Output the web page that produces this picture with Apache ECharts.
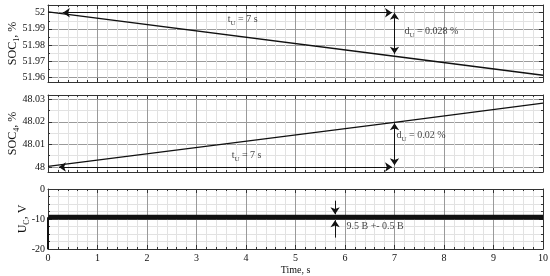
<!DOCTYPE html>
<html><head><meta charset="utf-8">
<script src="https://cdn.jsdelivr.net/npm/echarts@6/dist/echarts.min.js"></script>
<style>html,body{margin:0;padding:0;background:#fff}#c{width:550px;height:276px}</style>
</head><body><div id="c"></div><script>
// ---- data ----
const soc1Time = [0, 7, 10];
const soc1Values = [52.0005, 51.973, 51.9612];
const soc4Time = [0, 7, 10];
const soc4Values = [48.0003, 48.0198, 48.0283];
const ucStepTime = [0, 0];
const ucStepValues = [-20, -9.4];
const ucTime = [0.01, 10];
const ucValues = [-9.4, -9.4];
// annotation geometry (data coordinates)
const soc1TimeArrow = [[0.3, 52.0], [6.95, 52.0]];
const soc1DeltaArrow = [[7, 52.0], [7, 51.9745]];
const soc4TimeArrow = [[0.22, 48.0], [6.95, 48.0]];
const soc4DeltaArrow = [[7, 48.0008], [7, 48.0194]];
const ucArrowDown = [[5.8, -3.9], [5.8, -8.4]];
const ucArrowUp = [[5.8, -16.2], [5.8, -10.4]];
const soc1Texts = [[3.64, 51.9947, 't', 'U', ' = 7 s'], [7.21, 51.9872, 'd', 'U', ' = 0.028 %']];
const soc4Texts = [[3.72, 48.0044, 't', 'U', ' = 7 s'], [7.05, 48.0133, 'd', 'U', ' = 0.02 %']];
const ucTexts = [[6.04, -12.9, '', '', '9.5 B +- 0.5 B']];
// axis ranges / ticks
const timeRange = [0, 10, 1];
const soc1Range = [51.957, 52.0048];
const soc4Range = [47.9978, 48.0319];
const ucRange = [-20, 0, 10];

const FONT = "'Liberation Serif','DejaVu Serif',serif";
const INK = '#111';
const FRAME = '#333';
const MAJOR = '#9a9a9a';
const MINOR = '#e2e2e2';

const richSmall = {
  n: {fontSize: 10, fontFamily: FONT, color: INK, lineHeight: 12, verticalAlign: 'top'},
  s: {fontSize: 7, fontFamily: FONT, color: INK, lineHeight: 8, verticalAlign: 'bottom', padding: [6, 0, 0, 0]}
};
const richName = {
  n: {fontSize: 12, fontFamily: FONT, color: INK, lineHeight: 14, verticalAlign: 'top'},
  s: {fontSize: 8, fontFamily: FONT, color: INK, lineHeight: 9, verticalAlign: 'bottom', padding: [7, 0, 0, 0]}
};

function zip(a, b) { return a.map((v, i) => [v, b[i]]); }

const grids = [
  {left: 48, right: 7, top: 5, height: 77, containLabel: false, outerBoundsMode: 'none'},
  {left: 48, right: 7, top: 95, height: 77, containLabel: false, outerBoundsMode: 'none'},
  {left: 48, right: 7, top: 189, height: 60, containLabel: false, outerBoundsMode: 'none'}
];

const tickCommon = {
  axisLine: {show: true, onZero: false, lineStyle: {color: FRAME, width: 1}},
  axisTick: {show: true, inside: true, length: 4, lineStyle: {color: FRAME, width: 1}},
};

const xAxis = [];
const yAxis = [];
for (let g = 0; g < 3; g++) {
  xAxis.push(Object.assign({
    type: 'value', gridIndex: g, position: 'bottom',
    min: timeRange[0], max: timeRange[1], interval: timeRange[2],
    minorTick: {show: true, splitNumber: 5, length: 2, lineStyle: {color: FRAME}},
    splitLine: {show: true, lineStyle: {color: MAJOR, width: 1}},
    minorSplitLine: {show: true, lineStyle: {color: MINOR, width: 1}},
    axisLabel: {show: g === 2, fontFamily: FONT, fontSize: 10, color: INK, margin: 4},
    name: g === 2 ? 'Time, s' : '', nameLocation: 'middle', nameGap: 16, nameMoveOverlap: false,
    nameTextStyle: {fontFamily: FONT, fontSize: 10, color: INK}
  }, tickCommon));
  xAxis.push(Object.assign({
    type: 'value', gridIndex: g, position: 'top',
    min: timeRange[0], max: timeRange[1], interval: timeRange[2],
    minorTick: {show: true, splitNumber: 5, length: 2, lineStyle: {color: FRAME}},
    splitLine: {show: false}, axisLabel: {show: false}
  }, tickCommon));
}

const yDefs = [
  {min: soc1Range[0], max: soc1Range[1], splitNumber: 5, minor: 2, name: '{n|SOC}{s|1}{n|, %}', gap: 27, hideEnds: true},
  {min: soc4Range[0], max: soc4Range[1], splitNumber: 4, minor: 2, name: '{n|SOC}{s|4}{n|, %}', gap: 27, hideEnds: true},
  {min: ucRange[0], max: ucRange[1], interval: ucRange[2], minor: 4, name: '{n|U}{s|C}{n|, V}', gap: 17, hideEnds: false}
];
yDefs.forEach((d, g) => {
  const base = {type: 'value', gridIndex: g, min: d.min, max: d.max};
  if (d.interval) base.interval = d.interval; else base.splitNumber = d.splitNumber;
  yAxis.push(Object.assign({}, base, tickCommon, {
    position: 'left',
    minorTick: {show: true, splitNumber: d.minor, length: 2, lineStyle: {color: FRAME}},
    splitLine: {show: true, lineStyle: {color: MAJOR, width: 1}},
    minorSplitLine: {show: true, lineStyle: {color: MINOR, width: 1}},
    axisLabel: {fontFamily: FONT, fontSize: 10, color: INK, margin: 3,
      showMinLabel: !d.hideEnds, showMaxLabel: !d.hideEnds},
    name: d.name, nameLocation: 'middle', nameGap: d.gap, nameMoveOverlap: false,
    nameTextStyle: {rich: richName}
  }));
  yAxis.push(Object.assign({}, base, tickCommon, {
    position: 'right',
    minorTick: {show: true, splitNumber: d.minor, length: 2, lineStyle: {color: FRAME}},
    splitLine: {show: false}, axisLabel: {show: false}
  }));
});

function arrowLine(pairs, symbols) {
  return {
    silent: true, animation: false,
    symbol: symbols || ['arrow', 'arrow'], symbolSize: 7,
    lineStyle: {color: INK, width: 1, type: 'solid'},
    label: {show: false},
    data: pairs.map(p => [{coord: p[0]}, {coord: p[1]}])
  };
}
function textSeries(xi, yi, items) {
  return {
    type: 'scatter', xAxisIndex: xi, yAxisIndex: yi, silent: true,
    symbolSize: 1, itemStyle: {color: 'rgba(0,0,0,0)'}, z: 5,
    data: items.map(t => ({
      value: [t[0], t[1]],
      label: {show: true, position: [0, 0], align: 'left', verticalAlign: 'middle',
        formatter: (t[2] ? '{n|' + t[2] + '}{s|' + t[3] + '}' : '') + '{n|' + t[4] + '}',
        rich: richSmall}
    }))
  };
}

const series = [
  {type: 'line', xAxisIndex: 0, yAxisIndex: 0, data: zip(soc1Time, soc1Values),
   symbol: 'none', lineStyle: {color: INK, width: 1.4}, z: 4,
   markLine: arrowLine([soc1TimeArrow, soc1DeltaArrow])},
  textSeries(0, 0, soc1Texts),
  {type: 'line', xAxisIndex: 2, yAxisIndex: 2, data: zip(soc4Time, soc4Values),
   symbol: 'none', lineStyle: {color: INK, width: 1.4}, z: 4,
   markLine: arrowLine([soc4TimeArrow, soc4DeltaArrow])},
  textSeries(2, 2, soc4Texts),
  {type: 'line', xAxisIndex: 4, yAxisIndex: 4, data: zip(ucStepTime, ucStepValues),
   symbol: 'none', lineStyle: {color: INK, width: 2}, z: 4},
  {type: 'line', xAxisIndex: 4, yAxisIndex: 4, data: zip(ucTime, ucValues),
   symbol: 'none', lineStyle: {color: INK, width: 5}, z: 4,
   markLine: arrowLine([ucArrowDown, ucArrowUp], ['none', 'arrow'])},
  textSeries(4, 4, ucTexts)
];

const chart = echarts.init(document.getElementById('c'), null, {renderer: 'canvas'});
chart.setOption({
  animation: false,
  backgroundColor: '#fff',
  grid: grids,
  xAxis: xAxis,
  yAxis: yAxis,
  series: series
});
</script></body></html>
